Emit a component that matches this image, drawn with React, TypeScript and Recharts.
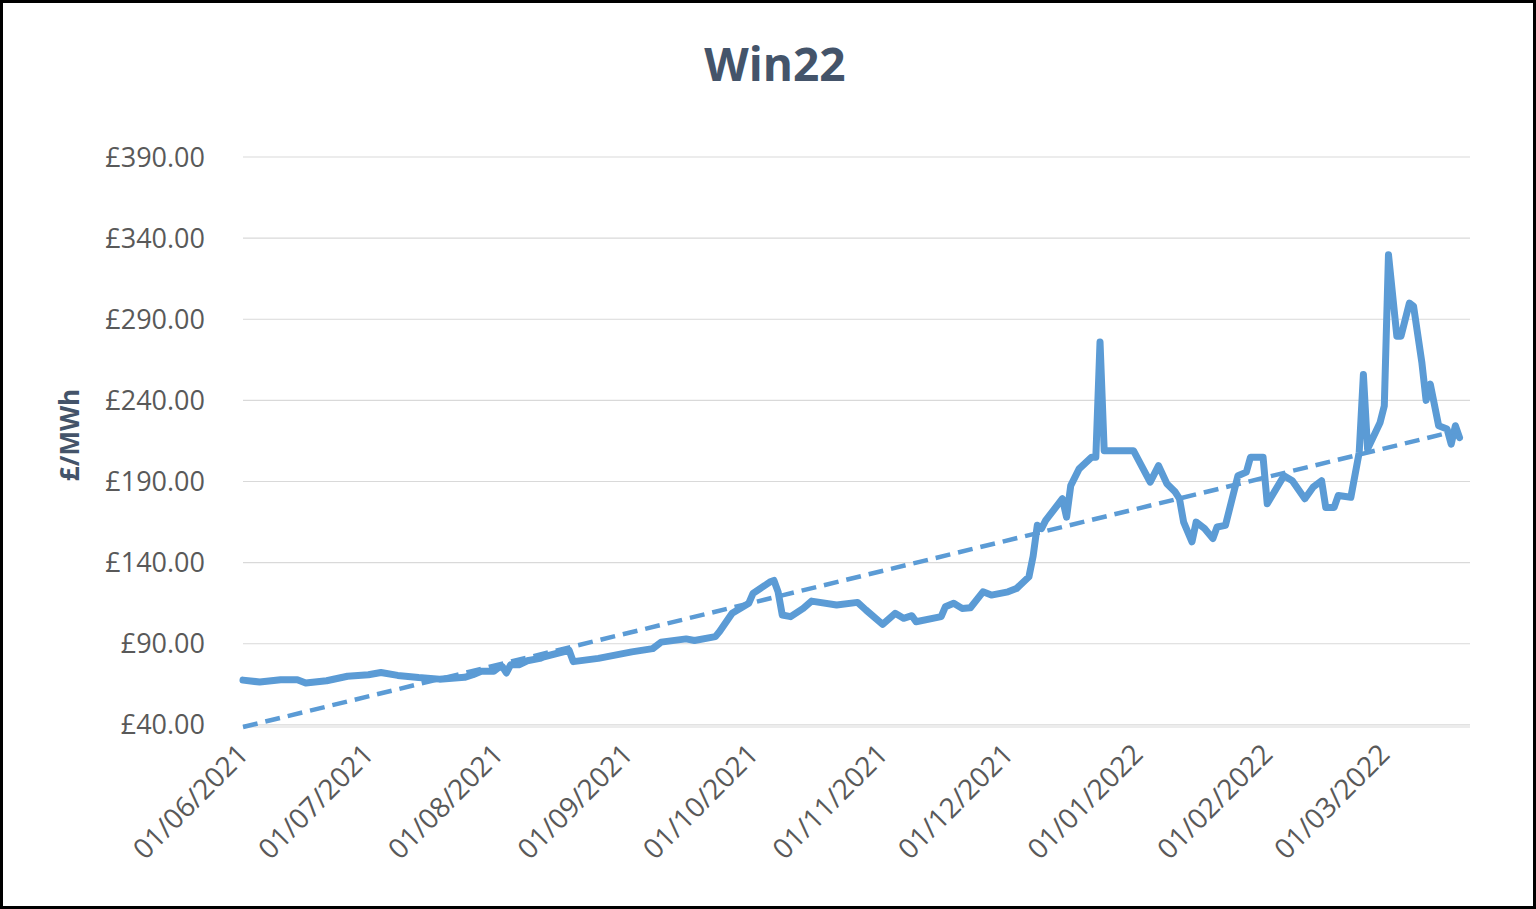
import React from "react";
import { LineChart, Line, XAxis, YAxis, CartesianGrid } from "recharts";

// Day offsets from 01/06/2021 and Win22 price (£/MWh)
const days = [
  0, 4, 9, 13, 15, 20, 25, 30, 33, 37, 42, 47, 53, 55, 57, 60, 61, 62, 63, 64,
  66, 68, 71, 72, 78, 79, 85, 93, 98, 100, 106, 108, 113, 114, 117, 121, 122,
  126, 127, 128, 129, 131, 134, 136, 142, 147, 149, 153, 156, 158, 160, 161,
  167, 168, 170, 172, 174, 177, 179, 183, 185, 188, 189, 190, 191, 192, 196,
  197, 198, 200, 203, 204, 205, 206, 213, 217, 219, 221, 223, 224, 225, 227,
  228, 230, 232, 233, 235, 238, 240, 241, 244, 245, 249, 251, 254, 256, 258,
  259, 261, 262, 265, 267, 268, 269, 272, 273, 274, 276, 277, 279, 280, 282,
  283, 284, 286, 288, 289, 290, 291,
];
const prices = [
  67.6, 66.4, 67.8, 67.8, 65.8, 67.2, 70, 70.9, 72.3, 70.5, 69.2, 68.2, 69.3,
  70.9, 73, 73, 75, 76, 72, 77, 77, 79.5, 81, 82, 86, 79, 81, 85, 87, 91, 93,
  92, 94.4, 97.5, 108.8, 115, 121, 128, 129, 122, 107.7, 106.7, 111.8, 116.3,
  113.9, 115.5, 110.8, 102, 108.8, 105.7, 107.3, 103.6, 106.7, 112.8, 115,
  111.8, 112.2, 122, 120, 122, 124, 131.3, 144, 163, 161, 166, 179.4, 168,
  187.5, 197.8, 205, 205, 276, 209, 209, 189.6, 199.8, 188.6, 183.5, 179.4,
  165, 152.8, 165, 161, 154.8, 162, 163, 193.6, 195.8, 205, 205, 176.3, 193.6,
  190.5, 179.4, 186.6, 190.5, 174, 174, 181.4, 180.3, 208, 256, 210, 226.4,
  236.6, 329.8, 279.6, 279.6, 300, 298, 263, 240, 250, 224.4, 222.4, 213,
  224.4, 217,
];

// Linear trend line end points
const trendDays = [0, 291];
const trendValues = [38.7, 221.7];

const tickDays = [0, 30, 61, 92, 122, 153, 183, 214, 245, 273];
const tickLabels = [
  "01/06/2021",
  "01/07/2021",
  "01/08/2021",
  "01/09/2021",
  "01/10/2021",
  "01/11/2021",
  "01/12/2021",
  "01/01/2022",
  "01/02/2022",
  "01/03/2022",
];
const yTicks = [40, 90, 140, 190, 240, 290, 340, 390];

const seriesData = days.map((d, i) => ({ day: d, price: prices[i] }));
const trendData = trendDays.map((d, i) => ({ day: d, trend: trendValues[i] }));

const FONT = "'Open Sans', sans-serif";
const BLUE = "#5B9BD5";

const XTick = (props: any) => {
  const { x, y, payload } = props;
  const idx = tickDays.indexOf(payload.value);
  const label = idx >= 0 ? tickLabels[idx] : "";
  const px = x + 7;
  const py = y + 29;
  return (
    <text
      x={px}
      y={py}
      textAnchor="end"
      fill="#595959"
      fontSize={28}
      fontFamily={FONT}
      transform={`rotate(-45, ${px}, ${py})`}
    >
      {label}
    </text>
  );
};

export default function App() {
  return (
    <div
      style={{
        position: "absolute",
        left: 0,
        top: 0,
        width: 1536,
        height: 909,
        background: "#fff",
        border: "3px solid #000",
        boxSizing: "border-box",
        overflow: "hidden",
      }}
    >
      <div
        style={{
          position: "absolute",
          left: 0,
          top: 37,
          width: 1536,
          paddingLeft: 8,
          boxSizing: "border-box",
          textAlign: "center",
          fontFamily: FONT,
          fontWeight: 700,
          fontSize: 46,
          lineHeight: "46px",
          color: "#44546A",
        }}
      >
        Win22
      </div>
      <div
        style={{
          position: "absolute",
          left: 66,
          top: 432,
          transform: "translate(-50%, -50%) rotate(-90deg)",
          fontFamily: FONT,
          fontWeight: 700,
          fontSize: 26,
          lineHeight: "26px",
          color: "#44546A",
          whiteSpace: "nowrap",
        }}
      >
        £/MWh
      </div>
      <div style={{ position: "absolute", left: -3, top: -3 }}>
        <LineChart
          width={1536}
          height={909}
          margin={{ top: 157, right: 66, left: 0, bottom: 0 }}
        >
          <CartesianGrid vertical={false} stroke="#D9D9D9" strokeWidth={1.2} />
          <XAxis
            type="number"
            dataKey="day"
            domain={[0, 293.5]}
            ticks={tickDays}
            interval={0}
            axisLine={false}
            tickLine={false}
            tickSize={0}
            tickMargin={0}
            height={182}
            tick={<XTick />}
            allowDuplicatedCategory={false}
          />
          <YAxis
            type="number"
            domain={[40, 390]}
            ticks={yTicks}
            interval={0}
            axisLine={false}
            tickLine={false}
            tickSize={0}
            tickMargin={38}
            width={243}
            tickFormatter={(v: number) => `£${v.toFixed(2)}`}
            tick={{ fill: "#595959", fontSize: 27, fontFamily: FONT }}
          />
          <Line
            data={seriesData}
            dataKey="price"
            type="linear"
            stroke={BLUE}
            strokeWidth={7}
            strokeLinejoin="round"
            strokeLinecap="round"
            dot={false}
            activeDot={false}
            isAnimationActive={false}
          />
          <Line
            data={trendData}
            dataKey="trend"
            type="linear"
            stroke={BLUE}
            strokeWidth={4.5}
            strokeDasharray="15 8"
            dot={false}
            activeDot={false}
            isAnimationActive={false}
          />
        </LineChart>
      </div>
    </div>
  );
}
